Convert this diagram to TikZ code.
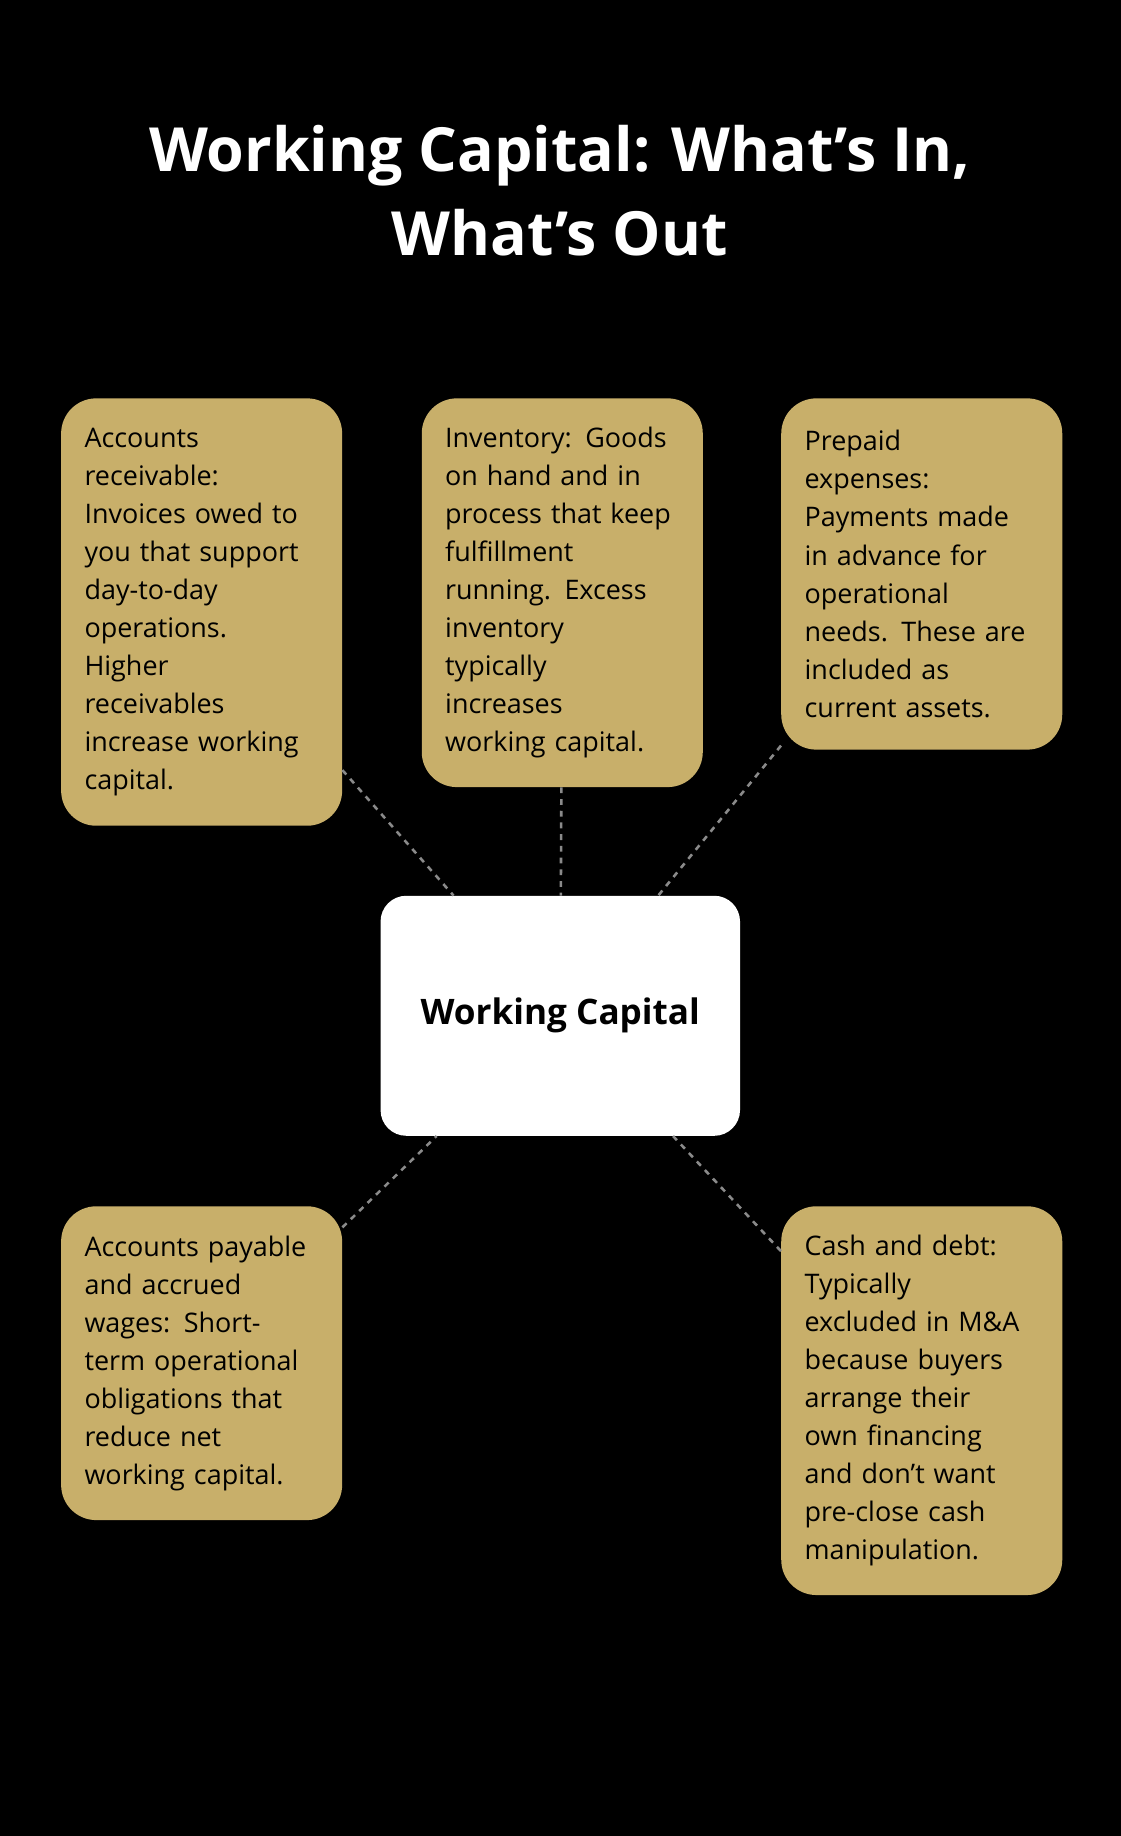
\documentclass[tikz,border=0pt]{standalone}
\usepackage{fontspec}
\setmainfont{Open Sans}
\usetikzlibrary{positioning}

\definecolor{gold}{HTML}{C8AF6A}
\definecolor{linkgray}{HTML}{8A8A8A}

\tikzset{
    card/.style={fill=gold, rounded corners=30pt, anchor=north west, align=left,
        inner xsep=20pt, inner ysep=0pt, text width=200pt,
        font=\fontsize{23}{32.5}\selectfont, text=black},
    hub/.style={fill=white, rounded corners=22pt, minimum width=307pt, minimum height=205pt,
        font=\bfseries\fontsize{30}{36}\selectfont},
    link/.style={draw=linkgray, line width=2.2pt, dash pattern=on 5pt off 5pt}
}

\begin{document}
\begin{tikzpicture}[x=1pt,y=-1pt]
    \fill[black] (0,0) rectangle (957,1568);
    \useasboundingbox (0,0) rectangle (957,1568);

    % Title
    \node[text=white, font=\bfseries\fontsize{52}{72}\selectfont, align=center] (title) at (478,163)
        {Working Capital: What’s In,\\What’s Out};

    % Cards
    \node[card, minimum height=365pt] (ar) at (52,340)
        {Accounts\\receivable:\\Invoices owed to\\you that support\\day-to-day\\operations.\\Higher\\receivables\\increase working\\capital.};
    \node[card, minimum height=332pt] (inv) at (360,340)
        {Inventory: Goods\\on hand and in\\process that keep\\fulfillment\\running. Excess\\inventory\\typically\\increases\\working capital.};
    \node[card, minimum height=300pt] (pre) at (667,340)
        {Prepaid\\expenses:\\Payments made\\in advance for\\operational\\needs. These are\\included as\\current assets.};
    \node[card, minimum height=268pt] (ap) at (52,1030)
        {Accounts payable\\and accrued\\wages: Short-\\term operational\\obligations that\\reduce net\\working capital.};
    \node[card, minimum height=332pt] (cash) at (667,1030)
        {Cash and debt:\\Typically\\excluded in M\&A\\because buyers\\arrange their\\own financing\\and don’t want\\pre-close cash\\manipulation.};

    % Center
    \node[hub] (wc) at (478.5,867.5) {Working Capital};

    % Links
    \foreach \n in {ar,inv,pre,ap,cash}
        \draw[link] (\n) -- (wc);
\end{tikzpicture}
\end{document}
